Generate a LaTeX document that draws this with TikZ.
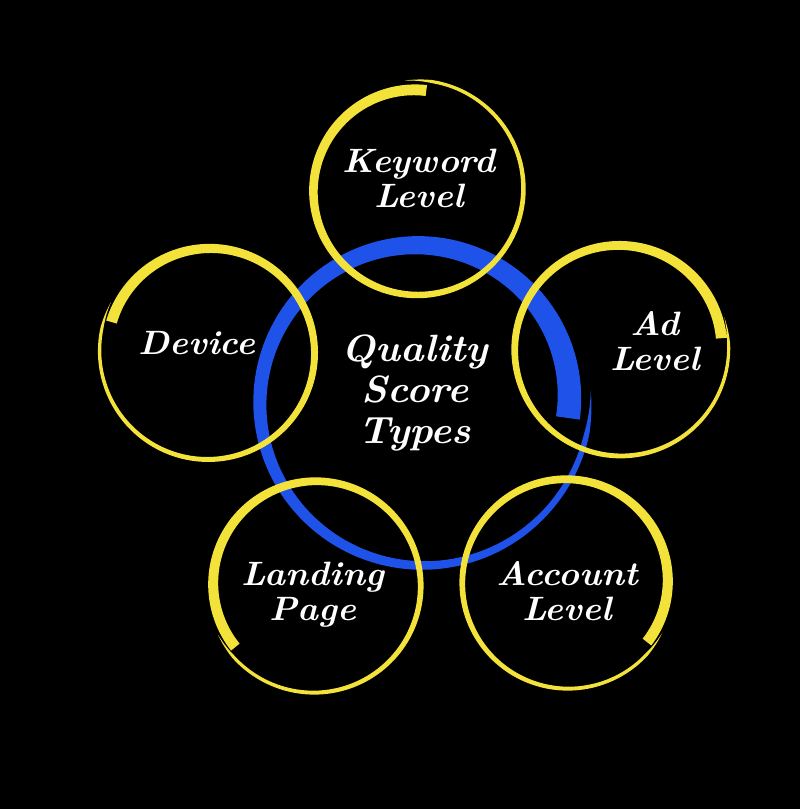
\documentclass[tikz,border=0pt]{standalone}
\usepackage{fontspec}

\definecolor{ringyellow}{RGB}{242,226,58}
\definecolor{ringblue}{RGB}{30,82,232}

% brush ring: colour, cx, cy, start angle, end angle, start radius, end radius, start width, end width
\newcommand{\brushring}[9]{%
  \fill[#1] plot[domain=0:1, samples=160, variable=\t]
      ({#4+(#5-(#4))*\t}:{#6+(#7-(#6))*\t + 0.5*(#9+(#8-(#9))*(1-\t)^1.2)*min(1,(1-\t)*25)})
    -- plot[domain=1:0, samples=160, variable=\t]
      ({#4+(#5-(#4))*\t}:{#6+(#7-(#6))*\t - 0.5*(#9+(#8-(#9))*(1-\t)^1.2)*min(1,(1-\t)*25)})
    -- cycle;
}

\tikzset{
  label/.style={text=white, align=center, font=\bfseries\itshape\fontsize{24}{25}\selectfont, xscale=1.05},
  center label/.style={label, font=\bfseries\itshape\fontsize{27}{29}\selectfont}
}

\begin{document}
\begin{tikzpicture}[x=0.025cm, y=0.025cm]
  % Background
  \fill[black] (0,0) rectangle (800,809);
  \useasboundingbox (0,0) rectangle (800,809);

  % Central ring
  \begin{scope}[shift={(420,409)}]
    \brushring{ringblue}{0}{0}{-7}{363}{149}{171}{24}{5}
  \end{scope}

  % Outer rings
  \begin{scope}[shift={(416,619)}]
    \brushring{ringyellow}{0}{0}{84}{456}{100}{110}{11}{3}
  \end{scope}
  \begin{scope}[shift={(620,460)}]
    \brushring{ringyellow}{0}{0}{6}{377}{102}{109}{11}{3}
  \end{scope}
  \begin{scope}[shift={(567,227)}]
    \brushring{ringyellow}{0}{0}{-37}{332}{100}{108}{11}{3}
  \end{scope}
  \begin{scope}[shift={(315,224)}]
    \brushring{ringyellow}{0}{0}{218}{-153}{101}{109}{11}{3}
  \end{scope}
  \begin{scope}[shift={(209,457)}]
    \brushring{ringyellow}{0}{0}{163}{-207}{102}{110}{11}{3}
  \end{scope}

  % Labels
  \node[center label] (qst) at (415,416) {Quality\\Score\\Types};
  \node[label] (kw) at (419,631) {Keyword\\Level};
  \node[label] (ad) at (655,468) {Ad\\Level};
  \node[label] (acct) at (567,218) {Account\\Level};
  \node[label] (land) at (313,214) {Landing\\Page};
  \node[label] (dev) at (197,466) {Device};
\end{tikzpicture}
\end{document}
